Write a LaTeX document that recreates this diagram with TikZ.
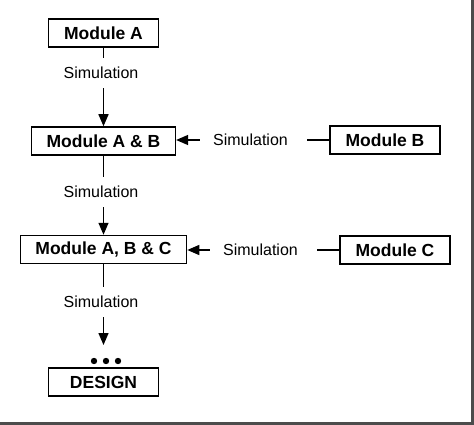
\documentclass[tikz,border=0pt]{standalone}
\usepackage{fontspec}
\setmainfont{Liberation Sans}
\usetikzlibrary{arrows.meta}

\begin{document}
\begin{tikzpicture}[x=1pt,y=-1pt]
		% Styles for the boxes, the labels and the connectors
		\tikzset{
			module/.style={draw, line width=1.5pt, inner xsep=15pt,
				minimum width=110pt, minimum height=28pt,
				font=\fontsize{17.5}{20}\selectfont\bfseries},
			simlabel/.style={inner xsep=13pt, inner ysep=9pt,
				font=\fontsize{16}{19}\selectfont},
			flow/.style={line width=1.4pt, -{Triangle[length=12pt,width=10pt]}},
			link/.style={line width=1.4pt}
		}
		\useasboundingbox (0,0) rectangle (474,425);
		
		% Left column of modules
		\node[module] (modA) at (103.5,33) {Module A};
		\node[module] (modAB) at (103.5,141) {Module A \& B};
		\node[module] (modABC) at (103.5,249.5) {Module A, B \& C};
		\node[module] (design) at (103.5,382) {DESIGN};
		
		% Right column of modules
		\node[module] (modB) at (385,140) {Module B};
		\node[module] (modC) at (395,250) {Module C};
		
		% Simulation labels
		\node[simlabel] (simA) at (101,73) {Simulation};
		\node[simlabel] (simAB) at (101,192) {Simulation};
		\node[simlabel] (simABC) at (101,302) {Simulation};
		\node[simlabel] (simB) at (250.5,140) {Simulation};
		\node[simlabel] (simC) at (260.5,250) {Simulation};
		
		% Vertical connectors
		\draw[link] (modA.south) -- (modA.south |- simA.north);
		\draw[flow] (simA.south -| modAB.north) -- (modAB.north);
		\draw[link] (modAB.south) -- (modAB.south |- simAB.north);
		\draw[flow] (simAB.south -| modABC.north) -- (modABC.north);
		\draw[link] (modABC.south) -- (modABC.south |- simABC.north);
		\coordinate (dotsTop) at (103.5,345);
		\draw[flow] (simABC.south -| dotsTop) -- (dotsTop);
		
		% Horizontal connectors
		\draw[link, shorten >=6pt] (modB.west) -- (simB.east);
		\draw[flow] (simB.west) -- (modAB.east |- simB.west);
		\draw[link, shorten >=6pt] (modC.west) -- (simC.east);
		\draw[flow] (simC.west) -- (modABC.east |- simC.west);
		
		% the dots above the design box
		\foreach \x in {94,106,118}
			\fill (\x,361) circle (3.2);
		
		% frame on the right and at the bottom
		\draw[line width=3pt, black!70] (472,0) -- (472,423) -- (0,423);
\end{tikzpicture}
\end{document}
